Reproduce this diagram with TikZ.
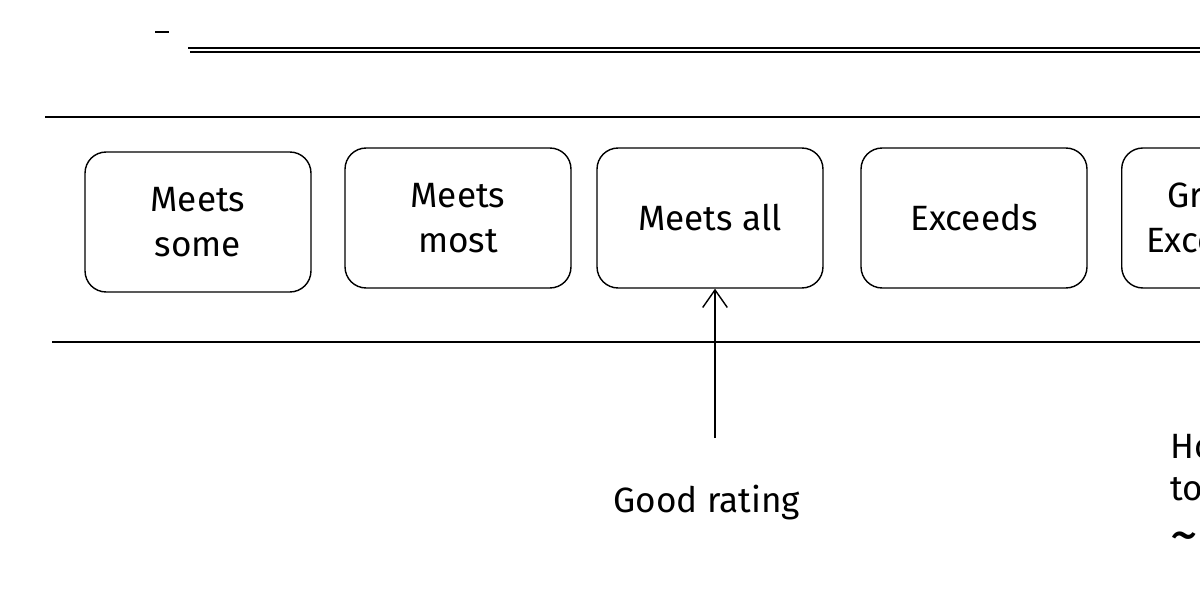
\documentclass[tikz,border=0pt]{standalone}
\usepackage{fontspec}
\setmainfont{Fira Sans}
\usetikzlibrary{positioning}
\usetikzlibrary{arrows.meta}

\tikzset{
  rating/.style={draw, thick, rounded corners=12pt, minimum width=4.52cm, minimum height=2.8cm,
    align=center, font=\fontsize{20}{26}\selectfont\mdseries},
  rule/.style={thick},
  note/.style={align=left, font=\fontsize{20}{24}\selectfont}
}

\begin{document}
\begin{tikzpicture}[x=0.02cm,y=-0.02cm]
		\useasboundingbox (0,0) rectangle (1200,594);
		\clip (0,0) rectangle (1200,594);

		% header
		\draw[very thick] (155,32) -- (169,32);
		\draw[semithick] (188,48) -- (1200,48);
		\draw[semithick] (190,52) -- (1200,52);

		% band
		\draw[rule] (45,117) -- (1200,117);
		\draw[rule] (52,342) -- (1200,342);

		\node[rating] (b1) at (198,222) {Meets\\some};
		\node[rating] (b2) at (458,218) {Meets\\most};
		\node[rating] (b3) at (710,218) {Meets all};
		\node[rating] (b4) at (974,218) {Exceeds};
		\node[rating, anchor=west] (b5) at (1121,218) {\hspace*{-1.0cm}Great\\\hspace*{-1.0cm}Exceeds};

		% pointer
		\node[note] (good) at (707,503) {Good rating};
		\coordinate (tail) at (715,438);
		\draw[thick, -{Straight Barb[length=10pt,width=14pt]}] (tail) -- (b3.south -| tail);

		\node[note, anchor=north west] (how) at (1164,428) {How\\to\\[6pt]{\fontsize{32}{20}\selectfont\textasciitilde}};
	\end{tikzpicture}
\end{document}
